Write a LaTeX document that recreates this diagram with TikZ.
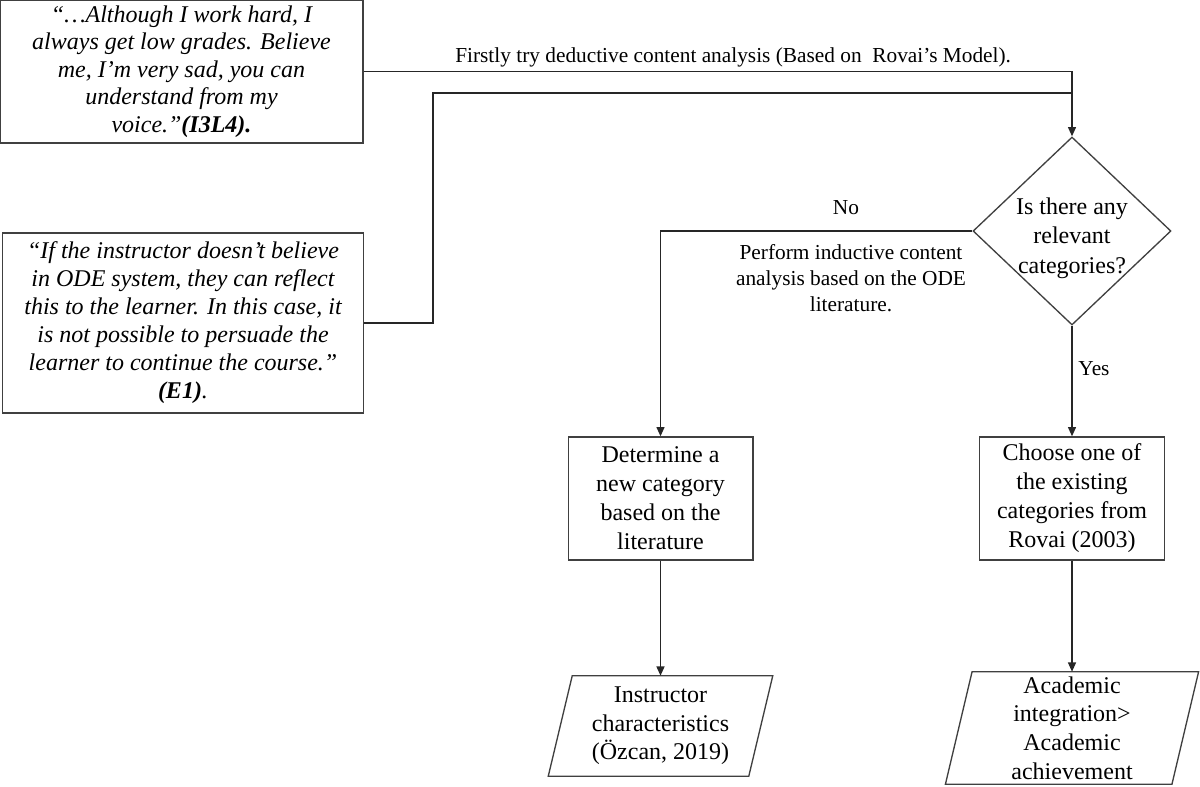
\documentclass[tikz,border=0pt]{standalone}
\usepackage{fontspec}
\setmainfont{Liberation Serif}
\usetikzlibrary{arrows.meta,shapes.geometric}
\begin{document}
\begin{tikzpicture}[x=0.75pt,y=-0.75pt,
 box/.style={draw=black!75, line width=1pt, rectangle, inner sep=0pt, align=center},
 quotebox/.style={box, font=\fontsize{18}{20.6}\selectfont\itshape},
 flow/.style={box, font=\fontsize{18}{21.75}\selectfont, minimum width=138.5pt, minimum height=92.25pt},
 para/.style={rectangle, inner sep=0pt, align=center, font=\fontsize{18}{21.5}\selectfont},
 lbl/.style={font=\fontsize{16}{19.5}\selectfont, align=center, inner sep=0pt},
 conn/.style={line width=1.1pt, draw=black!85},
 arr/.style={conn, -{Triangle[length=7pt,width=6pt]}},
 pshape/.style={draw=black!75, line width=1pt},
]
\useasboundingbox (0,0) rectangle (1200,786);

% quote boxes
\node[quotebox, minimum width=272.25pt, minimum height=107.25pt] (q1) at (181.5,71.5)
 {“…Although I work hard, I\\ always get low grades. Believe\\ me, I'm very sad, you can\\ understand from my\\ voice.”\textbf{(I3L4).}};
\node[quotebox, minimum width=270.75pt, minimum height=135pt, font=\fontsize{18}{21}\selectfont\itshape] (q2) at (183,323)
 {“If the instructor doesn’t believe\\ in ODE system,\ they can reflect\\ this to the learner. In this case, it\\ is not possible to persuade the\\ learner to continue the course.”\\ \textbf{(E1)}.};

% decision
\node[diamond, draw=black!75, line width=1pt, minimum width=148.5pt, minimum height=141pt, inner sep=0pt] (dec) at (1072,231) {};
\node[lbl, font=\fontsize{18}{22}\selectfont] (dect) at (1072,238) {Is there any\\ relevant\\ categories?};

% process boxes
\node[flow] (det) at (660.5,498.5) {Determine a\\ new category\\ based on the\\ literature};
\node[flow] (cho) at (1072,498.5) {Choose one of\\ the existing\\ categories from\\ Rovai (2003)};

% output parallelograms
\node[para, minimum width=150pt, minimum height=75pt] (ins) at (660.5,726) {Instructor\\ characteristics\\ (Özcan, 2019)};
\draw[pshape] ([xshift=9pt]ins.north west) -- ([xshift=9pt]ins.north east) -- ([xshift=-9pt]ins.south east) -- ([xshift=-9pt]ins.south west) -- cycle;
\node[para, minimum width=169.5pt, minimum height=84pt] (aca) at (1072,728) {Academic\\ integration>\\ Academic\\ achievement};
\draw[pshape] ([xshift=10pt]aca.north west) -- ([xshift=10pt]aca.north east) -- ([xshift=-10pt]aca.south east) -- ([xshift=-10pt]aca.south west) -- cycle;

% labels
\node[lbl, anchor=base west] (l1) at (455,62) {Firstly try deductive content analysis (Based on\ \ Rovai’s Model).};
\node[lbl] (lno) at (846,208) {No};
\node[lbl] (lind) at (851,278) {Perform inductive\ content\\ analysis\ based on the ODE\\ literature.};
\node[lbl] (lyes) at (1094,369) {Yes};

% connectors
\coordinate (c3) at (433,93);
\draw[arr] (q1.east) -| (dec.north);
\draw[conn] (q2.east) -| (c3) -- (c3 -| dec.north);
\draw[arr] (dec.west) -| (det.north);
\draw[arr] (dec.south) -- (cho.north);
\draw[arr] (det.south) -- (ins.north);
\draw[arr] (cho.south) -- (aca.north);
\end{tikzpicture}
\end{document}
